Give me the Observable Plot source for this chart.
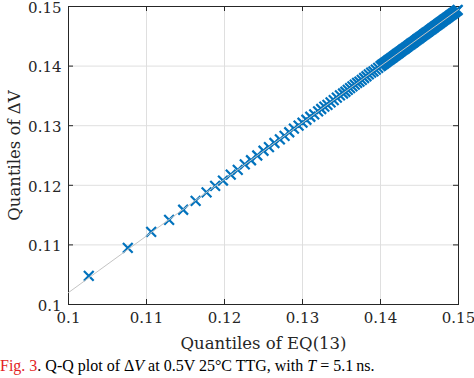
<!DOCTYPE html>
<html><head><meta charset="utf-8">
<script src="https://cdn.jsdelivr.net/npm/d3@7"></script>
<script src="https://cdn.jsdelivr.net/npm/@observablehq/plot@0.6"></script>
<style>
body{margin:0;background:#fff;}
#chart svg{display:block}
[aria-label="x-axis label"], [aria-label="y-axis label"]{font-size:16.5px}
.caption{font-family:"Liberation Serif";font-size:16px;line-height:20px;padding-top:4px;white-space:nowrap;color:#000}
</style></head><body><div id="chart"></div><div class="caption"><span style="color:#e31e24">Fig. 3</span>. Q-Q plot of Δ<i>V</i> at 0.5V 25°C TTG, with <i>T</i> = 5.1&#8201;ns.</div>
<script>
// Quantiles of EQ(13) (x) and of ΔV (y)
const eqQuantiles = [
  0.1026, 0.1076, 0.1106, 0.1129, 0.1147, 0.1163, 0.1177,
  0.1188, 0.1198, 0.1208, 0.1217, 0.1226, 0.1234, 0.1242, 0.1250, 0.1257, 0.1264,
  0.1271, 0.1277, 0.1283, 0.1289, 0.1295, 0.1300, 0.1305, 0.1310, 0.1315, 0.1320,
  0.1324, 0.1328, 0.1332, 0.1336, 0.1340, 0.1344, 0.1348, 0.1352, 0.1355, 0.1358,
  0.1361, 0.1364, 0.1367, 0.1370, 0.1373, 0.1376, 0.1379, 0.1382, 0.1385, 0.1388,
  0.1391, 0.1394, 0.1397,
  0.14000, 0.14015, 0.14030, 0.14045, 0.14060, 0.14075, 0.14090, 0.14105, 0.14120, 0.14135,
  0.14150, 0.14165, 0.14180, 0.14195, 0.14210, 0.14225, 0.14240, 0.14255, 0.14270, 0.14285,
  0.14300, 0.14315, 0.14330, 0.14345, 0.14360, 0.14375, 0.14390, 0.14405, 0.14420, 0.14435,
  0.14450, 0.14465, 0.14480, 0.14495, 0.14510, 0.14525, 0.14540, 0.14555, 0.14570, 0.14585,
  0.14600, 0.14615, 0.14630, 0.14645, 0.14660, 0.14675, 0.14690, 0.14705, 0.14720, 0.14735,
  0.14750, 0.14765, 0.14780, 0.14795, 0.14810, 0.14825, 0.14840, 0.14855, 0.14870, 0.14885,
  0.14900, 0.14915, 0.14930, 0.14945, 0.14960, 0.14975, 0.14990
];
const dvQuantiles = [
  0.1048, 0.1095, 0.1122, 0.1142, 0.1159, 0.1174, 0.1188,
  0.1199, 0.1208, 0.1218, 0.1226, 0.1235, 0.1242, 0.1250, 0.1258, 0.1264, 0.1271,
  0.1277, 0.1283, 0.1289, 0.1295, 0.1300, 0.1305, 0.1310, 0.1315, 0.1319, 0.1324,
  0.1328, 0.1332, 0.1335, 0.1339, 0.1343, 0.1347, 0.1351, 0.1354, 0.1357, 0.1360,
  0.1363, 0.1366, 0.1369, 0.1372, 0.1374, 0.1377, 0.1380, 0.1383, 0.1386, 0.1389,
  0.1391, 0.1394, 0.1397,
  0.14000, 0.14014, 0.14029, 0.14043, 0.14057, 0.14071, 0.14086, 0.14100, 0.14114, 0.14128,
  0.14143, 0.14157, 0.14171, 0.14185, 0.14200, 0.14214, 0.14228, 0.14242, 0.14257, 0.14271,
  0.14285, 0.14299, 0.14314, 0.14328, 0.14342, 0.14356, 0.14371, 0.14385, 0.14399, 0.14413,
  0.14428, 0.14442, 0.14456, 0.14470, 0.14485, 0.14499, 0.14513, 0.14527, 0.14542, 0.14556,
  0.14570, 0.14584, 0.14599, 0.14613, 0.14627, 0.14641, 0.14656, 0.14670, 0.14684, 0.14698,
  0.14713, 0.14727, 0.14741, 0.14755, 0.14770, 0.14784, 0.14798, 0.14812, 0.14827, 0.14841,
  0.14855, 0.14869, 0.14884, 0.14898, 0.14912, 0.14926, 0.14941
];
// Reference line endpoints
const refLineX = [0.1, 0.15];
const refLineY = [0.1020, 0.1495];
// Tick values
const xTicks = [0.1, 0.11, 0.12, 0.13, 0.14, 0.15];
const yTicks = [0.1, 0.11, 0.12, 0.13, 0.14, 0.15];

const points = eqQuantiles.map((x, i) => ({x, y: dvQuantiles[i]}));
const refLine = refLineX.map((x, i) => ({x, y: refLineY[i]}));

const W = 474, H = 352, mT = 6, mB = 48, mL = 68, mR = 16;
const plotH = H - mT - mB, plotW = W - mL - mR, tk = 5;
const axisColor = "#262626";
const fmt = d3.format("~g");

const chart = Plot.plot({
  width: W, height: H,
  marginTop: mT, marginBottom: mB, marginLeft: mL, marginRight: mR,
  style: {fontFamily: "DejaVu Serif", fontSize: "15px", color: axisColor, background: "#fff"},
  x: {domain: [0.1, 0.15]},
  y: {domain: [0.1, 0.15]},
  marks: [
    Plot.gridX(xTicks, {stroke: "#dfdfdf", strokeOpacity: 1}),
    Plot.gridY(yTicks, {stroke: "#dfdfdf", strokeOpacity: 1}),
    Plot.tickX(xTicks, {x: d => d, stroke: axisColor, insetTop: plotH - tk}),
    Plot.tickX(xTicks, {x: d => d, stroke: axisColor, insetBottom: plotH - tk}),
    Plot.tickY(yTicks, {y: d => d, stroke: axisColor, insetRight: plotW - tk}),
    Plot.tickY(yTicks, {y: d => d, stroke: axisColor, insetLeft: plotW - tk}),
    Plot.frame({stroke: axisColor, strokeWidth: 1}),
    Plot.dot(points, {x: "x", y: "y", symbol: "times", r: 4.5, stroke: "#0072BD", strokeWidth: 2.2}),
    Plot.line(refLine, {x: "x", y: "y", stroke: "#c4c4c4", strokeWidth: 1}),
    Plot.axisX({ticks: xTicks, tickSize: 0, tickPadding: 8, tickFormat: fmt,
      label: "Quantiles of EQ(13)", labelAnchor: "center", labelArrow: "none", labelOffset: 44}),
    Plot.axisY({ticks: yTicks, tickSize: 0, tickPadding: 7, tickFormat: fmt, dy: 1.5,
      label: "Quantiles of ΔV", labelAnchor: "center", labelArrow: "none", labelOffset: 60})
  ]
});
document.getElementById("chart").appendChild(chart);
</script></body></html>
